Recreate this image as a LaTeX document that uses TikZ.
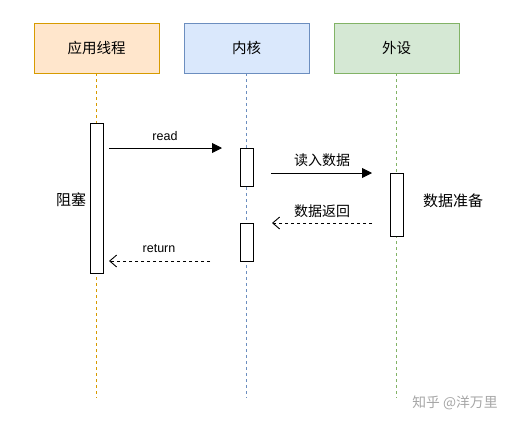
\documentclass[tikz,border=0pt]{standalone}
\usepackage{fontspec}
\setmainfont{Liberation Sans}
\newfontfamily\cjk{Noto Sans CJK SC}
\usetikzlibrary{arrows.meta}
\definecolor{orfill}{HTML}{FFE6CC}
\definecolor{ordraw}{HTML}{D79B00}
\definecolor{blfill}{HTML}{DAE8FC}
\definecolor{bldraw}{HTML}{6C8EBF}
\definecolor{grfill}{HTML}{D5E8D4}
\definecolor{grdraw}{HTML}{82B366}
\tikzset{
  x=1pt,y=-1pt,
  actor/.style={draw=#1, line width=0.9pt, minimum width=125pt, minimum height=50pt, inner sep=0pt, font=\cjk\fontsize{14.5}{16}\selectfont},
  lifeline/.style={draw=#1, line width=0.7pt, dash pattern=on 3pt off 3pt},
  activation/.style={draw=black, fill=white, line width=0.8pt, minimum width=13pt, inner sep=0pt},
  call/.style={line width=0.9pt, -{Triangle[length=10pt,width=10pt]}},
  reply/.style={line width=0.9pt, dash pattern=on 3pt off 3pt, -{Straight Barb[length=7pt,width=12pt,line width=0.9pt]}},
  lbl/.style={font=\fontsize{12.5}{14}\selectfont, inner sep=0pt},
  cjklbl/.style={font=\cjk\fontsize{14}{16}\selectfont, inner sep=0pt},
}
\begin{document}
\begin{tikzpicture}
\useasboundingbox (0,0) rectangle (510,426);
% actors
\node[actor=ordraw, fill=orfill] (app) at (96.5,48) {应用线程};
\node[actor=bldraw, fill=blfill] (ker) at (246.5,48) {内核};
\node[actor=grdraw, fill=grfill] (dev) at (396.5,48) {外设};
% lifeline ends
\coordinate (appEnd) at (96.5,398);
\coordinate (kerEnd) at (246.5,398);
\coordinate (devEnd) at (396.5,398);
\draw[lifeline=ordraw] (app.south) -- (appEnd);
\draw[lifeline=bldraw] (ker.south) -- (kerEnd);
\draw[lifeline=grdraw] (dev.south) -- (devEnd);
% activations
\node[activation, minimum height=150pt] (actA) at (96.5,198) {};
\node[activation, minimum height=38pt] (actK1) at (246.5,167) {};
\node[activation, minimum height=38pt] (actK2) at (246.5,242) {};
\node[activation, minimum height=63pt] (actD) at (396.5,204.5) {};
% message endpoints
\coordinate (readS) at (109,148);
\coordinate (readE) at (222,148);
\coordinate (inS) at (271,173);
\coordinate (inE) at (372,173);
\coordinate (backS) at (372,223);
\coordinate (backE) at (272,223);
\coordinate (retS) at (210,261);
\coordinate (retE) at (109,261);
\draw[call] (readS) -- (readE);
\draw[call] (inS) -- (inE);
\draw[reply] (backS) -- (backE);
\draw[reply] (retS) -- (retE);
% labels
\node[lbl] (readL) at (165,136) {read};
\node[cjklbl] (inL) at (322,160) {读入数据};
\node[cjklbl] (backL) at (322,211) {数据返回};
\node[lbl] (retL) at (159,249) {return};
\node[cjklbl, font=\cjk\fontsize{15}{17}\selectfont] (block) at (71,200) {阻塞};
\node[cjklbl, font=\cjk\fontsize{15}{17}\selectfont] (prep) at (453,201) {数据准备};
\node[cjklbl, text=black!35, font=\cjk\fontsize{13.8}{16}\selectfont] (wm) at (455,403) {知乎 @洋万里};
\end{tikzpicture}
\end{document}
